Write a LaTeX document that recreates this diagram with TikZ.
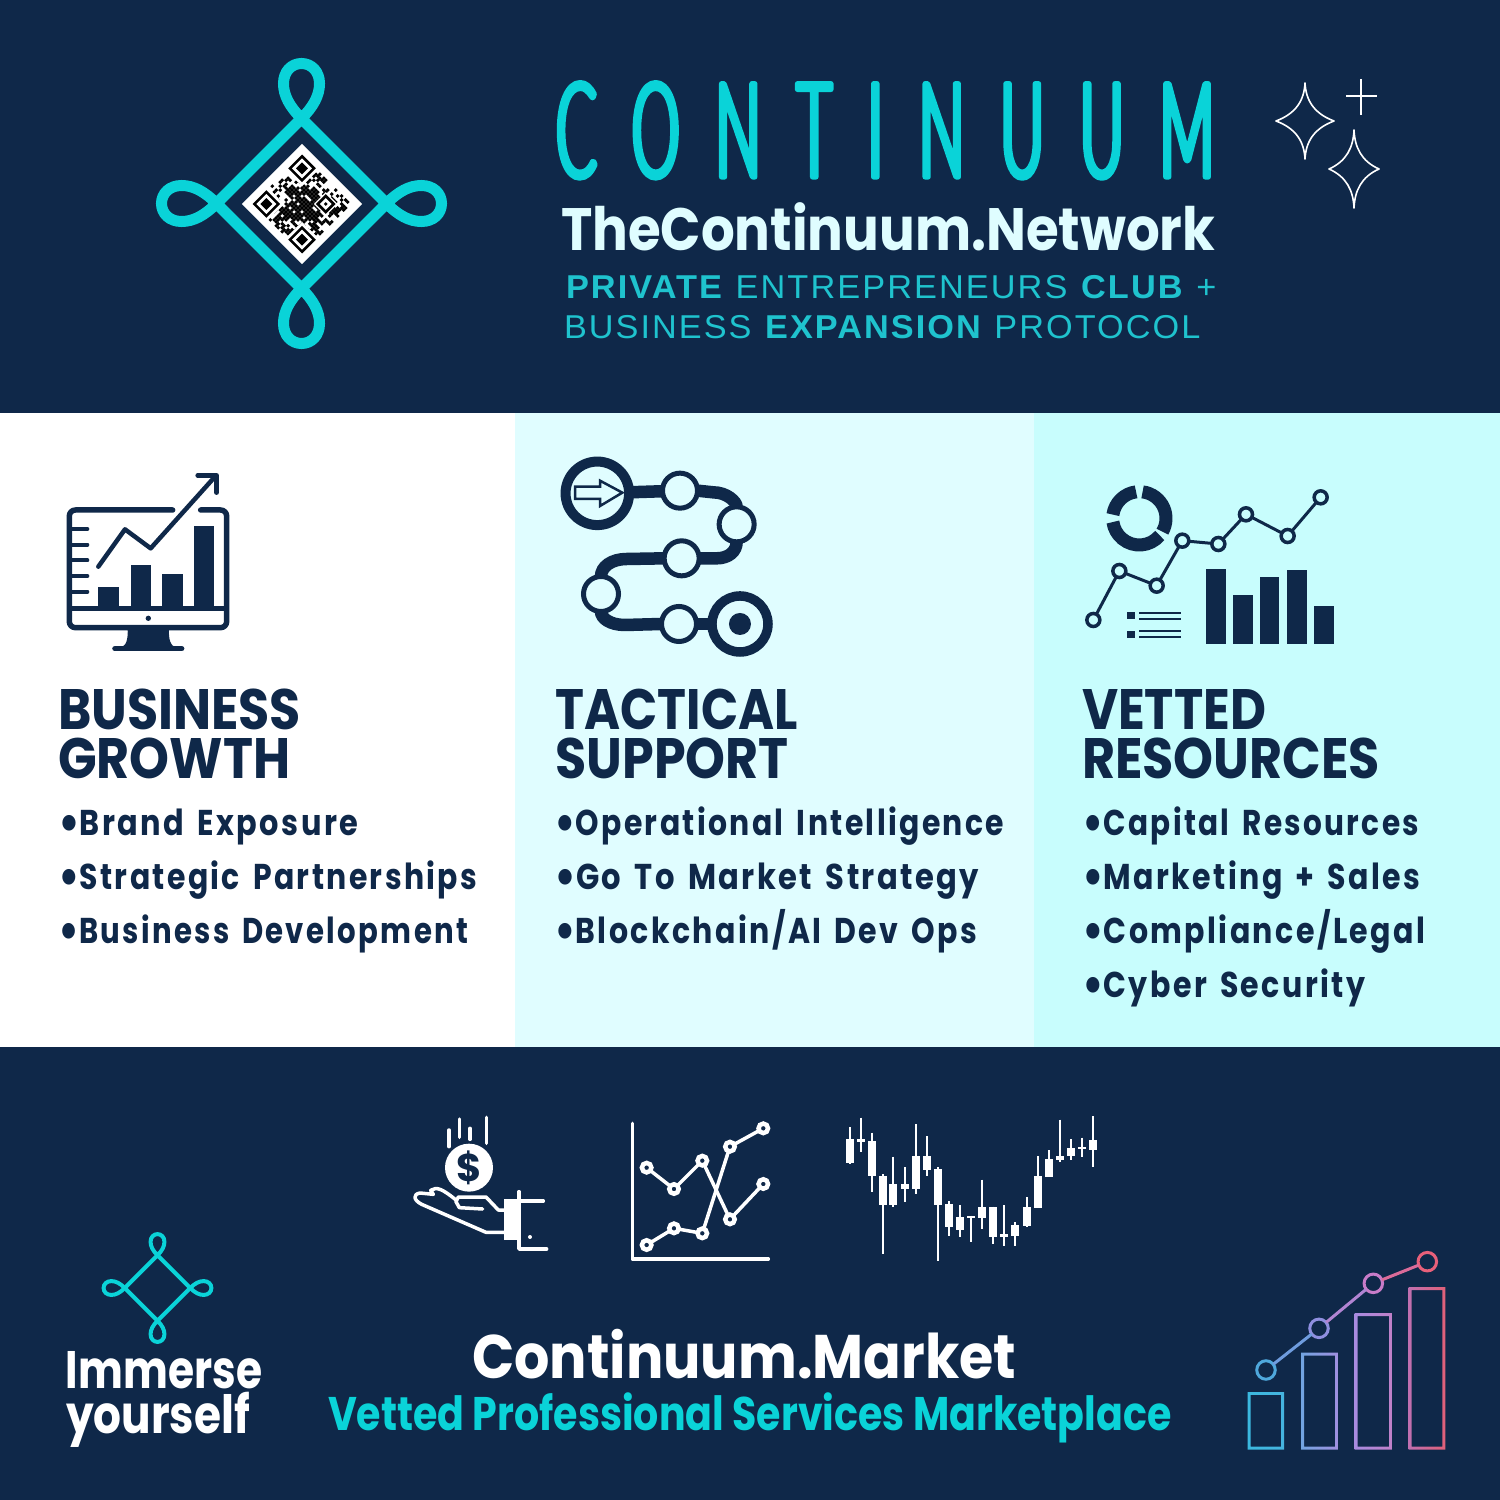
\documentclass[tikz,border=0pt]{standalone}
\usepackage{graphicx}
\usepackage{fontspec}
\usepackage{tikz}
\newfontfamily\logofont[FakeStretch=0.44,FakeBold=4,LetterSpace=26]{Lato Light}
\newfontfamily\headfont{Poppins}
\newfontfamily\listfont[LetterSpace=8,WordSpace=1.5]{Poppins}
\newfontfamily\subfont[LetterSpace=6]{Liberation Sans}
\definecolor{navy}{HTML}{0F2849}
\definecolor{logoteal}{HTML}{0AD3D8}
\definecolor{subteal}{HTML}{1FC3CE}
\definecolor{iceblue}{HTML}{DFFDFF}
\definecolor{panelb}{HTML}{E0FDFF}
\definecolor{panelc}{HTML}{C8FDFD}
\definecolor{barone}{HTML}{3BB8DF}
\definecolor{bartwoa}{HTML}{72A4E0}
\definecolor{bartwob}{HTML}{A090E0}
\definecolor{barthreea}{HTML}{A88BE0}
\definecolor{barthreeb}{HTML}{C080C8}
\definecolor{barfoura}{HTML}{C070B0}
\definecolor{barfourb}{HTML}{E06078}
\definecolor{ringone}{HTML}{4FA8DC}
\definecolor{ringtwo}{HTML}{8F8FE0}
\definecolor{ringthree}{HTML}{C87CC8}
\definecolor{ringfour}{HTML}{E8607A}
\newcommand{\fitx}[2]{\resizebox{#1}{\height}{#2}}
\newcommand{\blt}{\raisebox{-1.7pt}{\fontsize{14.7}{12}\selectfont •}}
\newcommand{\knot}[4]{
	\begin{scope}[shift={(#1,#2)},scale=#3,line width=#4,draw=logoteal]
		\draw[line join=round] (0,-85) -- (85,0) -- (0,85) -- (-85,0) -- cycle;
		\foreach \a in {0,90,180,270}{
			\draw[rotate=\a] (0,-85) .. controls (12,-97) and (18,-108) .. (18,-120) .. controls (18,-132) and (10,-140) .. (0,-140) .. controls (-10,-140) and (-18,-132) .. (-18,-120) .. controls (-18,-108) and (-12,-97) .. (0,-85);
		}
	\end{scope}
}
\newcommand{\sparkle}[4]{
	\draw[white,line width=0.016cm,line join=round] (#1,#2-#4) .. controls (#1+0.03*#3,#2-0.55*#4) and (#1+0.3*#3,#2-0.2*#4) .. (#1+#3,#2) .. controls (#1+0.3*#3,#2+0.2*#4) and (#1+0.03*#3,#2+0.55*#4) .. (#1,#2+#4) .. controls (#1-0.03*#3,#2+0.55*#4) and (#1-0.3*#3,#2+0.2*#4) .. (#1-#3,#2) .. controls (#1-0.3*#3,#2-0.2*#4) and (#1-0.03*#3,#2-0.55*#4) .. cycle;
}
\newcommand{\qrfinder}[2]{
	\fill[white] (#1-4.5,#2-4.5) rectangle (#1+4.5,#2+4.5);
	\fill[black] (#1-3.5,#2-3.5) rectangle (#1+3.5,#2+3.5);
	\fill[white] (#1-2.5,#2-2.5) rectangle (#1+2.5,#2+2.5);
	\fill[black] (#1-1.5,#2-1.5) rectangle (#1+1.5,#2+1.5);
}
\begin{document}
\begin{tikzpicture}[x=0.01cm,y=-0.01cm,
		every node/.style={inner sep=0pt,outer sep=0pt},
		bigtitle/.style={anchor=base west,font=\headfont\bfseries\fontsize{17}{20}\selectfont},
		subline/.style={anchor=base west,text=subteal,font=\subfont\fontsize{9.4}{11}\selectfont},
		heading/.style={anchor=base west,align=left,text=navy,font=\headfont\bfseries\fontsize{16.2}{13.66}\selectfont},
		listline/.style={anchor=base west,text=navy,font=\listfont\bfseries\fontsize{10.2}{12}\selectfont},
		stopmark/.style={circle,draw=navy,fill=panelb,line width=0.05cm,minimum size=0.35cm},
		roadline/.style={draw=navy,line width=0.125cm},
		monline/.style={draw=navy,line width=0.055cm,line cap=round,line join=round},
		chartdot/.style={circle,draw=navy,fill=panelc,line width=0.035cm,minimum size=0.13cm},
		chartline/.style={draw=navy,line width=0.03cm},
		whiteline/.style={draw=white,line width=0.035cm,line cap=round,line join=round},
		whitedot/.style={circle,draw=white,fill=navy,line width=0.045cm,minimum size=0.095cm},
		ringdot/.style={circle,fill=navy,line width=0.03cm,minimum size=0.185cm}]
	\useasboundingbox (0,0) rectangle (1500,1500);
	\fill[navy] (0,0) rectangle (1500,1500);
	\fill[white] (0,413) rectangle (515,1047);
	\fill[panelb] (515,413) rectangle (1034,1047);
	\fill[panelc] (1034,413) rectangle (1500,1047);

	\knot{301.5}{203.5}{1}{0.11cm}
	\begin{scope}[shift={(302,204)},rotate=45,scale=2.8]
		\fill[white] (-15.2,-15.2) rectangle (15.2,15.2);
		\pgfmathsetseed{11}
		\foreach \i in {-12,...,12}{
			\foreach \j in {-12,...,12}{
				\pgfmathtruncatemacro{\qrbit}{rnd<(abs(\i)+abs(\j)<9?0.78:0.45)}
				\ifnum\qrbit=1
					\fill[black] (\i-0.5,\j-0.5) rectangle (\i+0.5,\j+0.5);
				\fi
			}
		}
		\qrfinder{-9}{-9}
		\qrfinder{9}{-9}
		\qrfinder{-9}{9}
		\fill[white] (3,3) rectangle (9,9);
		\fill[black] (3.5,3.5) rectangle (8.5,8.5);
		\fill[white] (4.5,4.5) rectangle (7.5,7.5);
		\fill[black] (5.5,5.5) rectangle (6.5,6.5);
	\end{scope}

	\node[anchor=base west,text=logoteal,font=\logofont\fontsize{37.5}{40}\selectfont] (logotext)at(556,177) {\fitx{6.58cm}{\pgfsetroundjoin CONTINUUM}};
	\node[bigtitle,text=iceblue] (netname)at(561,250) {\fitx{6.54cm}{TheContinuum.Network}};
	\node[subline] (subtop)at(566,298) {\fitx{6.5cm}{\textbf{PRIVATE} ENTREPRENEURS \textbf{CLUB} +}};
	\node[subline] (subbot)at(564,338) {\fitx{6.36cm}{BUSINESS \textbf{EXPANSION} PROTOCOL}};

	\sparkle{1305}{121}{29}{38}
	\sparkle{1354}{169}{25}{39}
	\draw[white,line width=0.016cm] (1361,79) -- (1361,115);
	\draw[white,line width=0.016cm] (1346,96) -- (1377,96);

	\begin{scope}[shift={(40,450)},scale=0.3333]
		\draw[monline,rounded corners=0.06cm] (398,180) -- (88,180) -- (88,533) -- (560,533) -- (560,180) -- (482,180);
		\draw[monline,line cap=butt] (88,476) -- (560,476);
		\foreach \ty in {237,284,331,378,425}{
			\draw[monline,line width=0.04cm] (88,\ty) -- (142,\ty);
		}
		\fill[navy] (175,410) rectangle (237,476);
		\fill[navy] (272,345) rectangle (332,476);
		\fill[navy] (367,372) rectangle (428,476);
		\fill[navy] (463,228) rectangle (523,476);
		\fill[navy] (325,505) circle (8);
		\fill[navy] (263,533) .. controls (265,570) and (258,590) .. (240,592) -- (410,592) .. controls (392,590) and (385,570) .. (387,533) -- cycle;
		\draw[monline] (225,596) -- (425,596);
		\draw[monline,line width=0.045cm] (175,350) -- (255,238) -- (332,295) -- (525,80);
		\draw[monline,line width=0.045cm] (473,76) -- (530,76) -- (530,128);
	\end{scope}

	\begin{scope}[shift={(540,445)},scale=0.3333]
		\node[circle,draw=navy,fill=panelb,line width=0.1cm,minimum size=0.635cm] (start)at(172,145) {};
		\node[stopmark] (stop1)at(420,137) {};
		\node[stopmark] (stop2)at(590,238) {};
		\node[stopmark] (stop3)at(425,340) {};
		\node[stopmark] (stop4)at(183,447) {};
		\node[stopmark] (stop5)at(417,537) {};
		\node[circle,draw=navy,fill=panelb,line width=0.095cm,minimum size=0.56cm] (finish)at(600,537) {};
		\node[circle,fill=navy,minimum size=0.22cm] (finishdot)at(600,537) {};
		\draw[roadline] (start) -- (stop1);
		\draw[roadline] (stop1.east) -- (520,142) .. controls (560,142) and (590,170) .. (stop2.north);
		\draw[roadline] (stop2.south) .. controls (590,320) and (565,340) .. (530,340) -- (stop3.east);
		\draw[roadline] (stop3.west) -- (260,342) .. controls (215,342) and (183,365) .. (stop4.north);
		\draw[roadline] (stop4.south) .. controls (183,520) and (210,540) .. (255,540) -- (stop5.west);
		\draw[roadline] (stop5) -- (finish);
		\draw[navy,line width=0.025cm,line join=miter] (105,125) -- (180,125) -- (180,107) -- (247,143) -- (180,183) -- (180,162) -- (105,162) -- cycle;
	\end{scope}

	\begin{scope}[shift={(1070,470)},scale=0.3333]
		\begin{scope}[shift={(208,145)},yscale=-1]
			\draw[navy,line width=0.13cm] (172:80) arc[start angle=172,end angle=97,radius=80];
			\draw[navy,line width=0.13cm] (83:80) arc[start angle=83,end angle=-30,radius=80];
			\draw[navy,line width=0.13cm] (-40:80) arc[start angle=-40,end angle=-172,radius=80];
		\end{scope}
		\node[chartdot] (p1)at(70,450) {};
		\node[chartdot] (p2)at(148,303) {};
		\node[chartdot] (p3)at(260,347) {};
		\node[chartdot] (p4)at(337,212) {};
		\node[chartdot] (p5)at(445,222) {};
		\node[chartdot] (p6)at(528,133) {};
		\node[chartdot] (p7)at(653,198) {};
		\node[chartdot] (p8)at(752,82) {};
		\draw[chartline] (p1) -- (p2);
		\draw[chartline] (p2) -- (p3);
		\draw[chartline] (p3) -- (p4);
		\draw[chartline] (p4) -- (p5);
		\draw[chartline] (p5) -- (p6);
		\draw[chartline] (p6) -- (p7);
		\draw[chartline] (p7) -- (p8);
		\fill[navy] (172,425) rectangle (195,447);
		\fill[navy] (172,482) rectangle (195,505);
		\draw[chartline,line width=0.02cm] (208,428) -- (333,428);
		\draw[chartline,line width=0.02cm] (208,447) -- (333,447);
		\draw[chartline,line width=0.02cm] (208,484) -- (333,484);
		\draw[chartline,line width=0.02cm] (208,502) -- (333,502);
		\fill[navy] (408,298) rectangle (467,522);
		\fill[navy] (488,375) rectangle (548,522);
		\fill[navy] (570,320) rectangle (628,522);
		\fill[navy] (652,300) rectangle (712,522);
		\fill[navy] (733,407) rectangle (792,522);
	\end{scope}

	\node[heading] (growth)at(58,778) {\fitx{2.43cm}{BUSINESS}\\\fitx{2.32cm}{GROWTH}};
	\node[heading] (tactical)at(555.5,778) {\fitx{2.42cm}{TACTICAL}\\\fitx{2.33cm}{SUPPORT}};
	\node[heading] (vetted)at(1082,778) {\fitx{1.84cm}{VETTED}\\\fitx{2.98cm}{RESOURCES}};

	\node[listline] (g1)at(58,835) {\fitx{3.0cm}{\blt Brand Exposure}};
	\node[listline] (g2)at(58,889) {\fitx{4.19cm}{\blt Strategic Partnerships}};
	\node[listline] (g3)at(58,943) {\fitx{4.1cm}{\blt Business Development}};
	\node[listline] (t1)at(554,835) {\fitx{4.5cm}{\blt Operational Intelligence}};
	\node[listline] (t2)at(554,889) {\fitx{4.25cm}{\blt Go To Market Strategy}};
	\node[listline] (t3)at(554,943) {\fitx{4.23cm}{\blt Blockchain/AI Dev Ops}};
	\node[listline] (v1)at(1082,835) {\fitx{3.37cm}{\blt Capital Resources}};
	\node[listline] (v2)at(1082,889) {\fitx{3.38cm}{\blt Marketing + Sales}};
	\node[listline] (v3)at(1082,943) {\fitx{3.43cm}{\blt Compliance/Legal}};
	\node[listline] (v4)at(1082,997) {\fitx{2.83cm}{\blt Cyber Security}};

	\begin{scope}[shift={(400,1105)},scale=0.3333]
		\draw[whiteline] (147,75) -- (147,125);
		\draw[whiteline] (178,42) -- (178,97);
		\draw[whiteline] (210,70) -- (210,103);
		\draw[whiteline] (260,37) -- (260,115);
		\fill[white] (207,188) circle (72);
		\node[text=navy,font=\headfont\bfseries\fontsize{11}{13}\selectfont] (dollar)at(207,188) {\$};
		\draw[whiteline] (312,382) -- (258,382) -- (150,335) -- (65,298) .. controls (40,285) and (38,268) .. (60,264) -- (100,268) -- (92,256) .. controls (110,245) and (125,250) .. (168,285);
		\draw[whiteline] (312,315) -- (295,315) -- (258,276) -- (175,276) -- (168,290) -- (178,308) -- (248,312);
		\fill[white] (312,283) rectangle (358,405);
		\draw[whiteline] (357,260) -- (357,432) -- (440,432);
		\draw[whiteline] (357,288) -- (430,288);
		\fill[white] (390,396) circle (6);

		\coordinate (axtop) at (697,55);
		\coordinate (axcorner) at (697,462);
		\coordinate (axright) at (1105,462);
		\draw[whiteline] (axtop) -- (axcorner) -- (axright);
		\node[whitedot] (a1)at(740,188) {};
		\node[whitedot] (a2)at(822,252) {};
		\node[whitedot] (a3)at(907,167) {};
		\node[whitedot] (a4)at(990,343) {};
		\node[whitedot] (a5)at(1090,237) {};
		\node[whitedot] (c1)at(740,420) {};
		\node[whitedot] (c2)at(822,370) {};
		\node[whitedot] (c3)at(907,385) {};
		\node[whitedot] (c4)at(990,125) {};
		\node[whitedot] (c5)at(1090,70) {};
		\draw[whiteline] (a1) -- (a2);
		\draw[whiteline] (a2) -- (a3);
		\draw[whiteline] (a3) -- (a4);
		\draw[whiteline] (a4) -- (a5);
		\draw[whiteline] (c1) -- (c2);
		\draw[whiteline] (c2) -- (c3);
		\draw[whiteline] (c3) -- (c4);
		\draw[whiteline] (c4) -- (c5);
	\end{scope}

	\begin{scope}[shift={(830,1105)},scale=0.3333]
		\foreach \cx/\wt/\wb/\bt/\bb in {61/67/177/102/175,93/38/142/102/112,125/83/260/107/214,158/208/447/213/300,190/155/305/237/300,224/186/290/237/253,258/58/268/153/253,290/93/214/153/196,324/186/468/192/299,358/288/392/298/367,390/300/397/337/375,423/332/411/332/339,457/224/372/305/340,490/305/417/305/396,523/300/422/387/397,556/352/422/361/392,590/277/365/305/364,623/153/310/214/310,656/135/217/162/217,689/44/172/153/165,722/103/165/130/154,755/98/155/126/131,789/34/186/105/135}{
			\draw[white,line width=0.02cm] (\cx,\wt) -- (\cx,\wb);
			\fill[white] (\cx-12,\bt) rectangle (\cx+12,\bb);
		}
	\end{scope}

	\knot{157.5}{1288}{0.385}{0.04cm}
	\node[anchor=base west,align=left,text=white,font=\headfont\bfseries\fontsize{15}{12.8}\selectfont] (immerse)at(66,1433) {\fitx{1.96cm}{Immerse}\\\fitx{1.84cm}{yourself}};

	\node[bigtitle,text=white,font=\headfont\bfseries\fontsize{17.5}{20}\selectfont] (market)at(472,1378) {\fitx{5.44cm}{Continuum.Market}};
	\node[bigtitle,text=logoteal,font=\headfont\bfseries\fontsize{13.4}{16}\selectfont] (marketsub)at(328,1430) {\fitx{8.43cm}{Vetted Professional Services Marketplace}};

	\begin{scope}[shift={(1230,1240)},scale=0.3333]
		\shade[even odd rule,left color=barone,right color=barone!80!bartwoa] (53,456) rectangle (162,629) (62,465) rectangle (153,620);
		\shade[even odd rule,left color=bartwoa,right color=bartwob] (213,338) rectangle (324,629) (222,347) rectangle (315,620);
		\shade[even odd rule,left color=barthreea,right color=barthreeb] (374,219) rectangle (486,629) (383,228) rectangle (477,620);
		\shade[even odd rule,left color=barfoura,right color=barfourb] (536,141) rectangle (646,629) (545,150) rectangle (637,620);
		\node[ringdot,draw=ringone] (r1)at(108,390) {};
		\node[ringdot,draw=ringtwo] (r2)at(267,265) {};
		\node[ringdot,draw=ringthree] (r3)at(430,130) {};
		\node[ringdot,draw=ringfour] (r4)at(592,65) {};
		\draw[line width=0.03cm,ringone!50!ringtwo] (r1) -- (r2);
		\draw[line width=0.03cm,ringtwo!40!ringthree] (r2) -- (r3);
		\draw[line width=0.03cm,ringthree!40!ringfour] (r3) -- (r4);
	\end{scope}
\end{tikzpicture}
\end{document}
